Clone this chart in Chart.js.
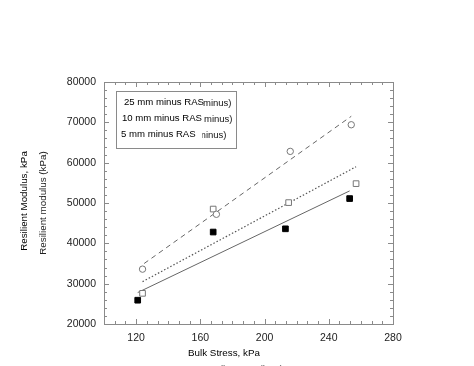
<!DOCTYPE html>
<html lang="en">
<head>
<meta charset="UTF-8">
<title>Resilient modulus vs bulk stress</title>
<script src="https://cdn.jsdelivr.net/npm/chart.js"></script>
<style>
    html, body { margin: 0; padding: 0; background: #fff; }
    #wrap { width: 474px; height: 366px; position: relative; }
</style>
</head>
<body>
<div id="wrap"><canvas id="chart" width="474" height="366"></canvas></div>
<script>
// measured points (bulk stress kPa, resilient modulus kPa)
const stress25 = [124, 170, 216, 254];
const modulus25 = [33600, 47200, 62800, 69400];
const stress10 = [124, 168, 215, 257];
const modulus10 = [27600, 48500, 50100, 54800];
const stress5 = [121, 168, 213, 253];
const modulus5 = [25900, 42800, 43600, 51100];

// fitted lines, start and end
const fitX25 = [125, 254];
const fitY25 = [35000, 71500];
const fitX10 = [124, 257];
const fitY10 = [30500, 59000];
const fitX5 = [121, 253];
const fitY5 = [27800, 53000];

const xTicks = [120, 160, 200, 240, 280];
const yTicks = [20000, 30000, 40000, 50000, 60000, 70000, 80000];
const legendLabels = ['25 mm minus RAS', '10 mm minus RAS', '5 mm minus RAS'];

const pts = (xs, ys) => xs.map((x, i) => ({ x: x, y: ys[i] }));
const FONT = '"Liberation Sans", Arial, sans-serif';

// box, inward ticks, legend and axis titles
const extras = {
    id: 'extras',
    afterDraw(chart) {
        const ctx = chart.ctx;
        const a = chart.chartArea;
        const xs = chart.scales.x, ys = chart.scales.y;
        ctx.save();
        ctx.strokeStyle = '#8a8a8a';
        ctx.lineWidth = 1;
        ctx.strokeRect(Math.round(a.left) + 0.5, Math.round(a.top) + 0.5,
            Math.round(a.right - a.left), Math.round(a.bottom - a.top));

        ctx.beginPath();
        for (let k = 0; k <= 27; k++) {
            const v = 100 + k * 20 / 3;
            const px = Math.round(xs.getPixelForValue(v)) + 0.5;
            const len = (k % 6 === 3) ? 5 : 3;
            ctx.moveTo(px, a.bottom); ctx.lineTo(px, a.bottom - len);
            ctx.moveTo(px, a.top); ctx.lineTo(px, a.top + len);
        }
        for (let v = 20000; v <= 80000; v += 2000) {
            const py = Math.round(ys.getPixelForValue(v)) + 0.5;
            const len = (v % 10000 === 0) ? 5 : 3;
            ctx.moveTo(a.left, py); ctx.lineTo(a.left + len, py);
            ctx.moveTo(a.right, py); ctx.lineTo(a.right - len, py);
        }
        ctx.stroke();

        // legend box
        ctx.strokeStyle = '#8a8a8a';
        ctx.strokeRect(116.5, 91.5, 120, 57);
        ctx.textBaseline = 'middle';
        ctx.textAlign = 'left';
        ctx.font = '9.5px ' + FONT;
        ctx.fillStyle = '#111';
        ctx.fillText('minus)', 203, 103);
        ctx.fillText('minus)', 204, 119);
        ctx.fillText('minus)', 198, 135);
        ctx.fillStyle = '#fff';
        ctx.fillRect(196, 128, 6, 14);
        ctx.fillStyle = '#000';
        ctx.font = '9.6px ' + FONT;
        ctx.fillText(legendLabels[0], 124, 102);
        ctx.fillText(legendLabels[1], 122, 118);
        ctx.fillText(legendLabels[2], 121, 134);

        // axis titles
        ctx.fillStyle = '#000';
        ctx.textAlign = 'center';
        ctx.font = '9.8px ' + FONT;
        ctx.save();
        ctx.translate(24, 201);
        ctx.rotate(-Math.PI / 2);
        ctx.fillText('Resilient Modulus, kPa', 0, 0);
        ctx.restore();
        ctx.save();
        ctx.translate(43, 203);
        ctx.rotate(-Math.PI / 2);
        ctx.fillStyle = '#222';
        ctx.fillText('Resilient modulus (kPa)', 0, 0);
        ctx.restore();
        ctx.fillText('Bulk Stress, kPa', 224, 353);
        ctx.textAlign = 'right';
        ctx.fillStyle = '#555';
        ctx.fillText('Bulk stress (kPa)', 283, 369);
        ctx.restore();
    }
};

new Chart(document.getElementById('chart').getContext('2d'), {
    type: 'scatter',
    data: {
        datasets: [
            { data: pts(stress25, modulus25), pointStyle: 'circle', pointRadius: 3.2,
              borderColor: '#777', backgroundColor: '#fff', borderWidth: 1 },
            { data: pts(stress10, modulus10), pointStyle: 'rect', pointRadius: 4,
              borderColor: '#777', backgroundColor: '#fff', borderWidth: 1 },
            { data: pts(stress5, modulus5), pointStyle: 'rect', pointRadius: 4,
              borderColor: '#000', backgroundColor: '#000', borderWidth: 1 },
            { type: 'line', data: pts(fitX25, fitY25), showLine: true, pointRadius: 0,
              borderColor: '#666', borderWidth: 1, borderDash: [5, 4] },
            { type: 'line', data: pts(fitX10, fitY10), showLine: true, pointRadius: 0,
              borderColor: '#555', borderWidth: 1.2, borderDash: [1.5, 2] },
            { type: 'line', data: pts(fitX5, fitY5), showLine: true, pointRadius: 0,
              borderColor: '#666', borderWidth: 1 }
        ]
    },
    options: {
        responsive: false,
        animation: false,
        layout: { padding: { left: 0, top: 82, right: 81, bottom: 0 } },
        plugins: { legend: { display: false }, tooltip: { enabled: false } },
        scales: {
            x: {
                type: 'linear', min: 100, max: 280,
                grid: { display: false, drawTicks: false },
                border: { display: false },
                afterBuildTicks: s => { s.ticks = xTicks.map(v => ({ value: v })); },
                afterFit: s => { s.height = 42; },
                ticks: { color: '#222', padding: 8, font: { family: FONT, size: 10.5 },
                         maxRotation: 0, callback: v => String(v) }
            },
            y: {
                min: 20000, max: 80000,
                grid: { display: false, drawTicks: false },
                border: { display: false },
                afterBuildTicks: s => { s.ticks = yTicks.map(v => ({ value: v })); },
                afterFit: s => { s.width = 104; },
                ticks: { color: '#222', padding: 8, font: { family: FONT, size: 10.5 },
                         callback: v => String(v) }
            }
        }
    },
    plugins: [extras]
});
</script>
</body>
</html>
